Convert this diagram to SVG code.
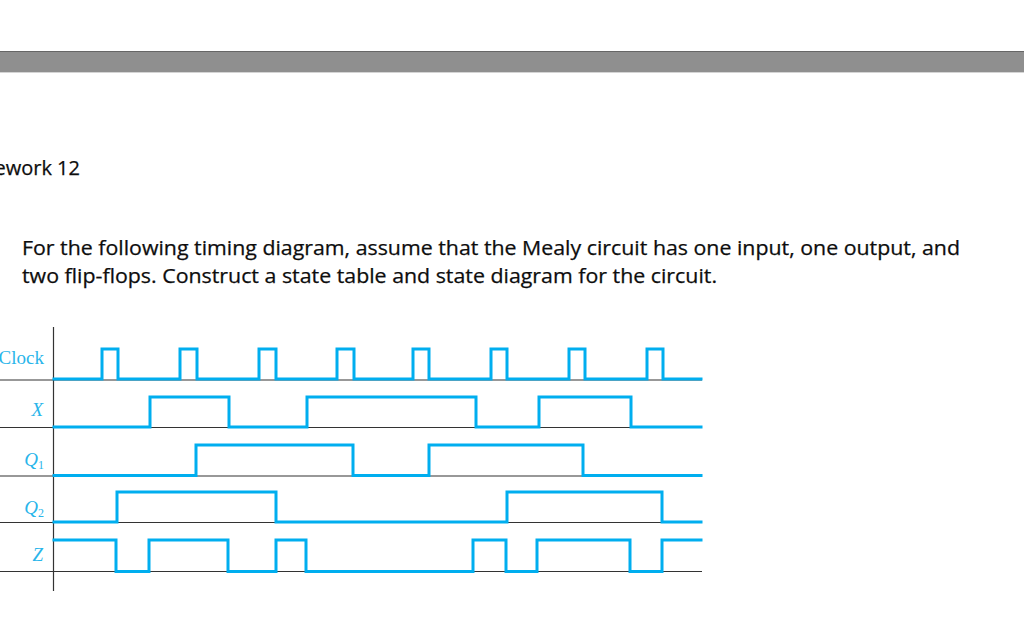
<svg xmlns="http://www.w3.org/2000/svg" width="1024" height="640" viewBox="0 0 1024 640">
<style>
  .doc { font-family: "Open Sans", "Noto Sans", "Liberation Sans", sans-serif; font-size: 20px; fill: #0d0d0d; stroke: #0d0d0d; stroke-width: 0.25; }
  .lbl { font-family: "Liberation Serif", "DejaVu Serif", serif; font-size: 19px; fill: #29b5ea; }
  .it { font-style: italic; }
  .sig { fill: none; stroke: #00aeef; stroke-width: 3; stroke-linejoin: miter; stroke-linecap: square; }
  .base { stroke: #333333; stroke-width: 1.2; fill: none; }
</style>
<rect x="0" y="0" width="1024" height="640" fill="#ffffff"/>
<g id="topbar">
  <rect x="0" y="51" width="1024" height="21" fill="#8f8f8f"/>
  <line x1="0" y1="51.5" x2="1024" y2="51.5" stroke="#666666" stroke-width="1"/>
  <line x1="0" y1="72.5" x2="1024" y2="72.5" stroke="#d4d4d4" stroke-width="1"/>
</g>
<g id="heading">
  <text class="doc" x="80" y="175" text-anchor="end">Homework 12</text>
</g>
<g id="question">
  <text class="doc" x="22" y="255" textLength="938" lengthAdjust="spacingAndGlyphs">For the following timing diagram, assume that the Mealy circuit has one input, one output, and</text>
  <text class="doc" x="22" y="283" textLength="695" lengthAdjust="spacingAndGlyphs">two flip-flops. Construct a state table and state diagram for the circuit.</text>
</g>
<g id="axes">
  <line class="base" x1="53.5" y1="327" x2="53.5" y2="591"/>
  <line class="base" x1="0" y1="380" x2="702" y2="380"/>
  <line class="base" x1="0" y1="427.5" x2="702" y2="427.5"/>
  <line class="base" x1="0" y1="476" x2="702" y2="476"/>
  <line class="base" x1="0" y1="522.5" x2="702" y2="522.5"/>
  <line class="base" x1="0" y1="571.5" x2="702" y2="571.5"/>
</g>
<g id="clock">
  <text class="lbl" x="44" y="364" text-anchor="end">Clock</text>
  <path class="sig" d="M54,379 H102 V349 H118 V379 H180 V349 H197 V379 H259 V349 H276 V379 H337 V349 H354 V379 H413 V349 H429 V379 H491 V349 H507 V379 H569 V349 H585 V379 H647 V349 H663 V379 H701"/>
</g>
<g id="x">
  <text class="lbl it" x="43" y="416" text-anchor="end">X</text>
  <path class="sig" d="M54,427 H150 V397 H229 V427 H307 V397 H476 V427 H539 V397 H631 V427 H701"/>
</g>
<g id="q1">
  <text class="lbl" x="44" y="466" text-anchor="end"><tspan class="it">Q</tspan><tspan font-size="12" dy="3">1</tspan></text>
  <path class="sig" d="M54,475.5 H196 V445 H353 V475.5 H429 V445 H583 V475.5 H701"/>
</g>
<g id="q2">
  <text class="lbl" x="44" y="514" text-anchor="end"><tspan class="it">Q</tspan><tspan font-size="12" dy="3">2</tspan></text>
  <path class="sig" d="M54,522 H117 V492 H276 V522 H507 V492 H662 V522 H701"/>
</g>
<g id="z">
  <text class="lbl it" x="43" y="561" text-anchor="end">Z</text>
  <path class="sig" d="M54,540 H116 V571.5 H149 V540 H228 V571.5 H276 V540 H306 V571.5 H473 V540 H506 V571.5 H537 V540 H630 V571.5 H662 V540 H701"/>
</g>
<g id="connectors"></g>
</svg>
